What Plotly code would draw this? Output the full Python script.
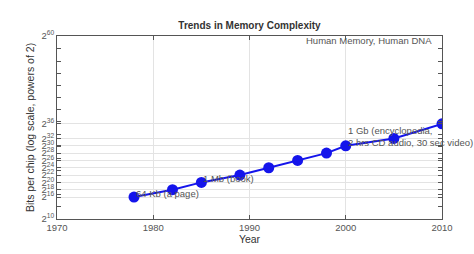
import plotly.graph_objects as go

years = [1978, 1982, 1985, 1989, 1992, 1995, 1998, 2000, 2005, 2010]
bit_powers = [16, 18, 20, 22, 24, 26, 28, 30, 32, 36]
bits = [2 ** p for p in bit_powers]

ytick_powers = [10, 16, 18, 20, 22, 24, 26, 28, 30, 32, 36, 60]
minor_powers10 = list(range(4, 19))
xtick_vals = [1970, 1980, 1990, 2000, 2010]

ann_texts = ["64 Kb (a page)", "1 Mb (book)",
             "1 Gb (encyclopedia,<br>2 hrs CD audio, 30 sec video)",
             "Human Memory, Human DNA"]
ann_x = [1978, 1985, 2000, 2002.4]
ann_y = [16.0, 20.0, 30.0, 58.8]
ann_anchor = ["left", "left", "left", "center"]
ann_yanchor = ["bottom", "bottom", "bottom", "middle"]

FONT = "Liberation Sans, Arial, sans-serif"
GRAY = "#555555"

fig = go.Figure()
fig.add_trace(go.Scatter(
    x=years, y=bits, mode="lines+markers",
    line=dict(color="rgb(20,20,235)", width=2),
    marker=dict(color="rgb(20,20,235)", size=11),
    showlegend=False,
))

for t, x, y, a, ya in zip(ann_texts, ann_x, ann_y, ann_anchor, ann_yanchor):
    fig.add_annotation(x=x, y=y * 0.30103, text=t, showarrow=False,
                       xanchor=a, yanchor=ya, align="left",
                       yshift=-4 if ya == "bottom" else 0,
                       font=dict(size=9.5, color=GRAY, family=FONT))

fig.update_layout(
    width=474, height=254,
    margin=dict(l=57, r=32, t=36, b=35),
    paper_bgcolor="white", plot_bgcolor="white",
    font=dict(family=FONT, size=9.5, color=GRAY),
    title=dict(text="<b>Trends in Memory Complexity</b>", x=0.5, xref="paper",
               xanchor="center", y=1 - 25 / 254, yanchor="middle",
               font=dict(size=10, color="#333333", family=FONT)),
    xaxis=dict(
        range=[1970, 2010], tickvals=xtick_vals, ticks="inside", ticklen=4,
        tickcolor="#555", showline=True, linecolor="#555", linewidth=1,
        mirror="ticks", showgrid=True, gridcolor="#e3e3e3", zeroline=False,
        title=dict(text="Year", font=dict(size=10.5, color="#333"), standoff=2),
        tickfont=dict(size=9.5, color=GRAY),
    ),
    yaxis=dict(
        type="log", range=[10 * 0.30103, 60 * 0.30103],
        tickvals=[2 ** p for p in ytick_powers],
        ticktext=["2<sup>%d</sup>" % p for p in ytick_powers],
        ticks="inside", ticklen=4, tickcolor="#555",
        showline=True, linecolor="#555", linewidth=1, mirror="ticks",
        showgrid=True, gridcolor="#e3e3e3", zeroline=False,
        minor=dict(tickvals=[10 ** k for k in minor_powers10], ticks="inside",
                   ticklen=4, tickcolor="#555", showgrid=False),
        title=dict(text="Bits per chip (log scale, powers of 2)",
                   font=dict(size=10.5, color="#333"), standoff=4),
        tickfont=dict(size=9.5, color=GRAY),
    ),
)

fig.write_html("out.html", config={"displayModeBar": True, "displaylogo": False})
